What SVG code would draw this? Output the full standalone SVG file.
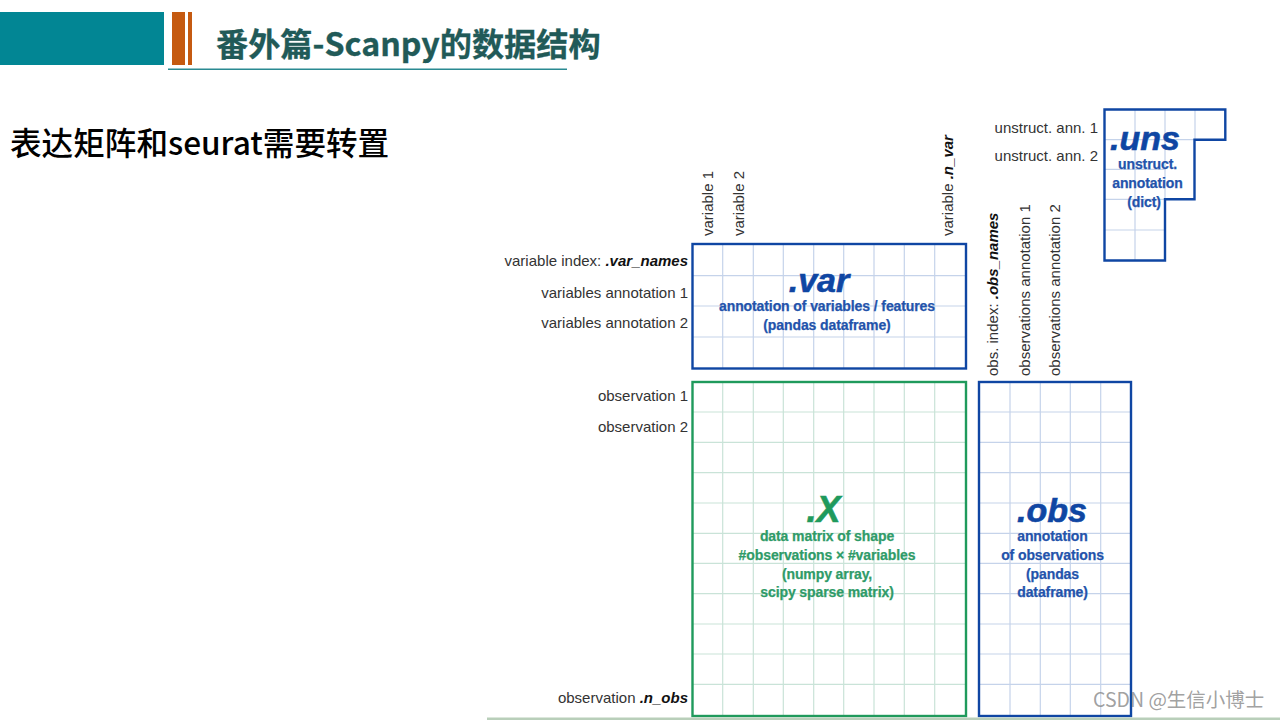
<svg xmlns="http://www.w3.org/2000/svg" width="1280" height="720" viewBox="0 0 1280 720">
<style>
.lab{font-family:"Liberation Sans",Arial,sans-serif;font-size:15px;fill:#333}
.end{text-anchor:end}
.em{font-weight:bold;font-style:italic;fill:#111}
.hd{font-family:"Liberation Sans",Arial,sans-serif;font-weight:bold;font-style:italic;text-anchor:middle;stroke-width:.6}
.sub{font-family:"Liberation Sans",Arial,sans-serif;font-weight:bold;font-size:14px;text-anchor:middle;letter-spacing:-.1px;stroke-width:.25}
.b{fill:#0f46a3;stroke:#0f46a3}.g{fill:#1f9a5c;stroke:#1f9a5c}
.sb{fill:#2353ab;stroke:#2353ab}.sg{fill:#2f9b68;stroke:#2f9b68}
.gb{stroke:#c5d3ea;stroke-width:1.2;fill:none}
.gg{stroke:#c9e3d8;stroke-width:1.2;fill:none}
.ob{fill:none;stroke:#0f46a3;stroke-width:2.4}
.og{fill:none;stroke:#1f9a5c;stroke-width:2.4}
.cjk{font-family:"Noto Sans CJK SC","Noto Sans",sans-serif}
</style>
<rect width="1280" height="720" fill="#fff"/>
<g id="header">
<rect x="0" y="12" width="164" height="53" fill="#028694"/>
<rect x="172" y="12" width="13" height="53" fill="#c55a11"/>
<rect x="188" y="12" width="4" height="53" fill="#c55a11"/>
<rect x="168" y="68.500" width="399" height="1.500" fill="#2a8a92"/>
<text x="216" y="56" class="cjk" font-size="32.200" font-weight="700" fill="#215a58" stroke="#215a58" stroke-width=".3">番外篇-Scanpy的数据结构</text>
</g>
<text x="10" y="155" class="cjk" font-size="31.600" font-weight="500" fill="#000">表达矩阵和seurat需要转置</text>
<g id="var">
<path class="gb" d="M722.700 244V368M753.300 244V368M783.300 244V368M813.700 244V368M843.700 244V368M874 244V368M904.300 244V368M934.700 244V368M692 275.700H966M692 306H966M692 337H966"/>
<rect class="ob" x="692.500" y="244" width="273.500" height="124.500"/>
<text class="hd b" x="819" y="292" font-size="34">.var</text>
<text class="sub sb" x="827" y="311">annotation of variables / features</text>
<text class="sub sb" x="827" y="330">(pandas dataframe)</text>
</g>
<g id="x">
<path class="gg" d="M722.700 382V716M753.300 382V716M783.300 382V716M813.700 382V716M843.700 382V716M874 382V716M904.300 382V716M934.700 382V716M692 412H966M692 442.400H966M692 472.600H966M692 503H966M692 533.300H966M692 563.400H966M692 593.700H966M692 624H966M692 654H966M692 684.300H966"/>
<rect class="og" x="692.500" y="382" width="273.500" height="334"/>
<text class="hd g" x="823.500" y="522" font-size="36">.X</text>
<text class="sub sg" x="827" y="541">data matrix of shape</text>
<text class="sub sg" x="827" y="560">#observations × #variables</text>
<text class="sub sg" x="827" y="579">(numpy array,</text>
<text class="sub sg" x="827" y="597">scipy sparse matrix)</text>
</g>
<g id="obs">
<path class="gb" d="M1010 382V716M1040.300 382V716M1070.300 382V716M1100.700 382V716M979 412H1131M979 442.400H1131M979 472.600H1131M979 503H1131M979 533.300H1131M979 563.400H1131M979 593.700H1131M979 624H1131M979 654H1131M979 684.300H1131"/>
<rect class="ob" x="979" y="382" width="152" height="334"/>
<text class="hd b" x="1052" y="522" font-size="34">.obs</text>
<text class="sub sb" x="1052.500" y="541">annotation</text>
<text class="sub sb" x="1052.500" y="560">of observations</text>
<text class="sub sb" x="1052.500" y="579">(pandas</text>
<text class="sub sb" x="1052.500" y="597">dataframe)</text>
</g>
<g id="uns">
<path class="gb" d="M1135 109.500V260.500M1165 109.500V199M1195 109.500V139.500M1104.500 139.700H1195M1104.500 169.300H1165M1104.500 199.300H1165M1104.500 230H1165"/>
<path class="ob" d="M1104.500 109.500H1225.300V139.700H1194.500V199.300H1165V260.500H1104.500Z"/>
<text class="hd b" x="1145" y="150" font-size="34">.uns</text>
<text class="sub sb" x="1147.500" y="169">unstruct.</text>
<text class="sub sb" x="1147.500" y="188">annotation</text>
<text class="sub sb" x="1144" y="207">(dict)</text>
</g>
<g id="labels">
<text class="lab end" x="688" y="266">variable index: <tspan class="em">.var_names</tspan></text>
<text class="lab end" x="688" y="298">variables annotation 1</text>
<text class="lab end" x="688" y="328">variables annotation 2</text>
<text class="lab end" x="688" y="401">observation 1</text>
<text class="lab end" x="688" y="432">observation 2</text>
<text class="lab end" x="688" y="703">observation <tspan class="em">.n_obs</tspan></text>
<text class="lab end" x="1098" y="133">unstruct. ann. 1</text>
<text class="lab end" x="1098" y="161">unstruct. ann. 2</text>
<text class="lab" transform="translate(713,236) rotate(-90)">variable 1</text>
<text class="lab" transform="translate(744,236) rotate(-90)">variable 2</text>
<text class="lab" transform="translate(953,236) rotate(-90)">variable <tspan class="em">.n_var</tspan></text>
<text class="lab" transform="translate(998,376) rotate(-90)">obs. index: <tspan class="em">.obs_names</tspan></text>
<text class="lab" transform="translate(1030,376) rotate(-90)">observations annotation 1</text>
<text class="lab" transform="translate(1060,376) rotate(-90)">observations annotation 2</text>
</g>
<rect x="487" y="717.500" width="793" height="2.500" fill="#b9cfba"/>
<g id="watermark">
<text x="1093" y="707" class="cjk" font-size="19.500" fill="#888" fill-opacity=".8">CSDN @生信小博士</text>
</g>
</svg>
